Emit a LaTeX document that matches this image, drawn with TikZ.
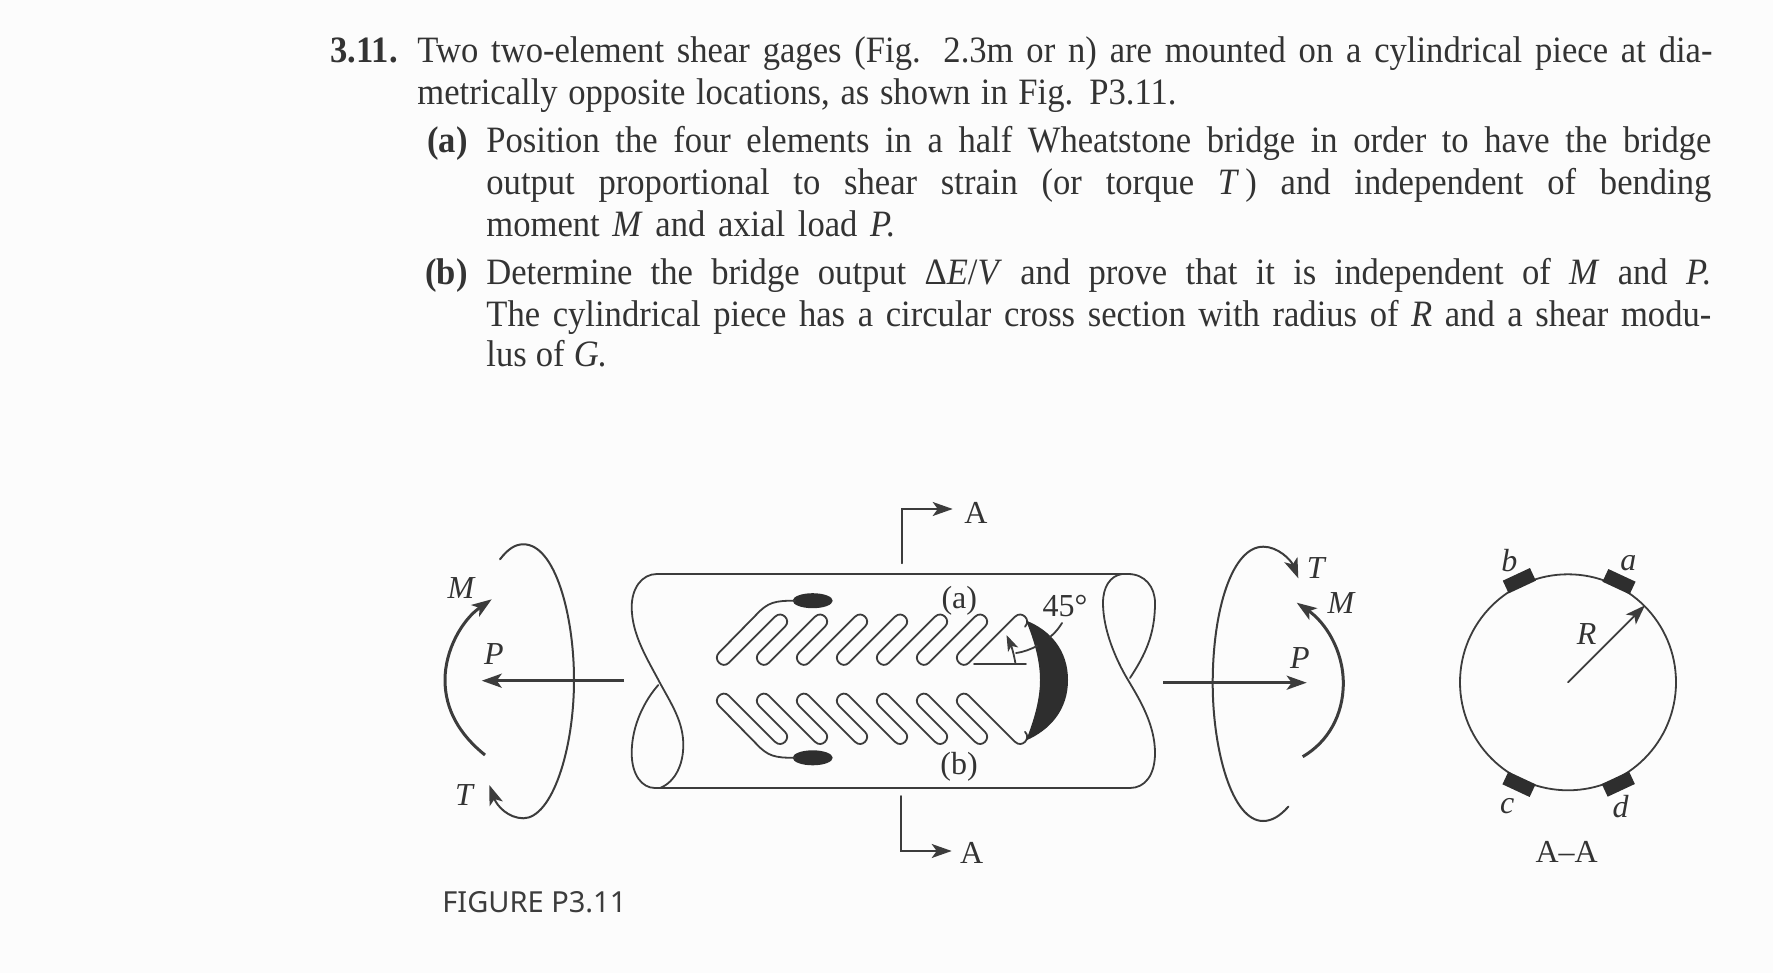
\documentclass[tikz,border=0pt]{standalone}
\usepackage{fontspec}
\setmainfont[FakeStretch=0.93]{Liberation Serif}
\newfontfamily\labfont{Liberation Serif}
\newfontfamily\capfont{Noto Sans}
\usetikzlibrary{arrows.meta}
\definecolor{ink}{HTML}{3C3C3C}
\definecolor{txt}{HTML}{333333}
\definecolor{dark}{HTML}{2E2E2E}
\newcommand{\jline}[2]{\makebox[#1pt][s]{\spaceskip=.25em plus 1em minus .2em\relax #2}}
\newcommand{\gaugepath}{%
  \fill[dark] (812.7,600.7) ellipse [x radius=20,y radius=7.5];
  \draw[thin line] (795,600.7) .. controls (775,600.7) and (768,602) .. (756,615) -- (719,652.7)
    \foreach \k [evaluate=\k as \bx using 724+40*\k, evaluate=\k as \tx using 780+40*\k] in {0,...,6} {
      .. controls ({\bx-11.67},659.37) and ({\bx-1.67},669.37) .. ({\bx+5},662.7)
      -- ({\tx-5},616.7)
      .. controls ({\tx+1.67},610) and ({\tx+11.67},620) .. ({\tx+5},626.7)
      \ifnum\k<6 -- ({\bx+35},652.7) \fi
    };
}
\tikzset{
  thin line/.style={draw=ink,line width=.9pt,line cap=round},
  heavy line/.style={draw=ink,line width=1.5pt},
  tip/.style={-{Stealth[length=10pt,width=7pt,inset=2.5pt]}},
  body/.style={anchor=base west,inner sep=0pt,text=txt,font=\fontsize{18.6}{20}\selectfont},
  lab/.style={inner sep=0pt,text=txt,font=\fontsize{16}{18}\selectfont},
  gagebox/.style={fill=dark,minimum width=15pt,minimum height=7pt,inner sep=0pt},
}
\begin{document}
\begin{tikzpicture}[x=0.5pt,y=-0.5pt]
\useasboundingbox (0,0) rectangle (1773,973);
\fill[white!99!black] (0,0) rectangle (1773,973);

% text
\node[body] (n) at (330,63) {\textbf{3.11.}};
\node[body] (l1) at (417,63) {\jline{647.5}{Two two-element shear gages (Fig. 2.3m or n) are mounted on a cylindrical piece at dia-}};
\node[body] (l2) at (417,104.7) {\jline{379.5}{metrically opposite locations, as shown in Fig. P3.11.}};
\node[body] (ka) at (427,153) {\textbf{(a)}};
\node[body] (a1) at (486,153) {\jline{612.5}{Position the four elements in a half Wheatstone bridge in order to have the bridge}};
\node[body] (a2) at (486,194.7) {\jline{612.5}{output proportional to shear strain (or torque \textit{T}\,) and independent of bending}};
\node[body] (a3) at (486,236.3) {\jline{204.5}{moment \textit{M} and axial load \textit{P.}}};
\node[body] (kb) at (425,284.7) {\textbf{(b)}};
\node[body] (b1) at (486,284.7) {\jline{612.5}{Determine the bridge output Δ\textit{E}/\textit{V} and prove that it is independent of \textit{M} and \textit{P.}}};
\node[body] (b2) at (486,326.3) {\jline{612.5}{The cylindrical piece has a circular cross section with radius of \textit{R} and a shear modu-}};
\node[body] (b3) at (486,366.3) {\jline{60.5}{lus of \textit{G.}}};

% cylinder
\draw[thin line] (657,574) .. controls (642,574) and (631.7,588) .. (631.7,607)
  .. controls (631.7,635) and (648,660) .. (660,683)
  .. controls (672,705) and (683.3,722) .. (683.3,745)
  .. controls (683.3,765) and (675,782) .. (660,788);
\draw[thin line] (658.3,685) .. controls (645,700) and (631.7,725) .. (631.7,753)
  .. controls (631.7,775) and (642,788) .. (655,788) -- (1130,788)
  .. controls (1145,788) and (1155,775) .. (1155,753)
  .. controls (1155,725) and (1140,700) .. (1128,680)
  .. controls (1116,660) and (1103,630) .. (1103,603)
  .. controls (1103,587) and (1110,576) .. (1122,574);
\draw[thin line] (657,574) -- (1128,574)
  .. controls (1145,574) and (1155,587) .. (1155,603)
  .. controls (1155,635) and (1145,655) .. (1130,678);

% gages
\gaugepath
\begin{scope}[shift={(0,1358.5)},yscale=-1]
\gaugepath
\end{scope}
\fill[dark] (1026,620.5) .. controls (1050,630) and (1068,650) .. (1068,680)
  .. controls (1068,710) and (1050,730) .. (1026,740.5)
  .. controls (1034,720) and (1040,700) .. (1040,680)
  .. controls (1040,660) and (1034,640) .. (1026,620.5) -- cycle;

% 45 degree mark
\draw[thin line] (974,664.3) -- (1026,664.3);
\draw[thin line,-{Stealth[length=8pt,width=5.5pt,inset=2pt]}] (1015.5,664) .. controls (1014,654) and (1011,645) .. (1006.5,635);
\draw[thin line] (1016,653) .. controls (1024,652) and (1031,649) .. (1037,646);
\draw[thin line] (1050,637) .. controls (1055,633) and (1059,628) .. (1062,623);

% section marks
\draw[thin line,tip] (901.7,563.3) -- (901.7,509) -- (952.7,509);
\draw[thin line,tip] (901,796) -- (901,851) -- (951.7,851);
\node[lab] (secA) at (976,513) {\labfont A};
\node[lab] (secB) at (971.7,853) {\labfont A};
\node[lab] (la) at (959.3,601) {\labfont (a)};
\node[lab] (lb) at (959,767) {\labfont (b)};
\node[lab] (deg) at (1065,606) {\labfont 45°};

% left loads
\draw[thin line,line width=1pt,tip] (500,559.3) .. controls (508,549) and (515,544.3) .. (523.3,544.3)
  .. controls (555,544) and (574,615) .. (574,680)
  .. controls (574,750) and (552,818) .. (523.3,818.3)
  .. controls (508,818) and (497,806) .. (489.3,785);
\draw[heavy line,tip] (485,755) .. controls (460,735) and (445,710) .. (445,680)
  .. controls (445,650) and (462,620) .. (491.7,599.3);
\draw[heavy line,tip] (624,680.7) -- (481.7,680.7);
\node[lab] (lM) at (461.7,588) {\labfont\textit{M}};
\node[lab] (lP) at (494,654) {\labfont\textit{P}};
\node[lab] (lT) at (465,795) {\labfont\textit{T}};

% right loads
\draw[thin line,line width=1pt,tip] (1288.3,806.7) .. controls (1280,816) and (1272,821) .. (1263,821)
  .. controls (1232,821) and (1212.7,750) .. (1212.7,683.3)
  .. controls (1212.7,610) and (1232,546.7) .. (1263.3,546.7)
  .. controls (1278,546.7) and (1291,560) .. (1298.3,578.3);
\draw[heavy line,tip] (1302.7,756.7) .. controls (1328,742) and (1343.3,715) .. (1343.3,683.3)
  .. controls (1343.3,650) and (1325,622) .. (1296.7,602.7);
\draw[heavy line,tip] (1163.3,682.7) -- (1306.7,682.7);
\node[lab] (rT) at (1316.7,568) {\labfont\textit{T}};
\node[lab] (rM) at (1341.7,603.3) {\labfont\textit{M}};
\node[lab] (rP) at (1300,658) {\labfont\textit{P}};

% section A-A
\node[draw=ink,line width=.9pt,circle,minimum size=108pt,inner sep=0pt] (sec) at (1568,682.3) {};
\node[gagebox,rotate=-25] (ga) at (1619,581.7) {};
\node[gagebox,rotate=25] (gb) at (1519.3,580.7) {};
\node[gagebox,rotate=-25] (gc) at (1519,784.3) {};
\node[gagebox,rotate=25] (gd) at (1618.3,784) {};
\node[lab] (ta) at (1628.3,562.7) {\labfont\textit{a}};
\node[lab] (tb) at (1509.3,560.7) {\labfont\textit{b}};
\node[lab] (tc) at (1507.3,806) {\labfont\textit{c}};
\node[lab] (td) at (1620.7,807) {\labfont\textit{d}};
\node[lab] (tR) at (1586.7,634.5) {\labfont\textit{R}};
\draw[thin line,tip] (sec.center) -- (sec.45);
\node[lab] (tAA) at (1566.7,851.7) {\labfont A–A};

\node[anchor=west,inner sep=0pt,text=ink,font=\capfont\fontsize{14.5}{16}\selectfont] (cap) at (442,901.7) {FIGURE P3.11};
\end{tikzpicture}
\end{document}
